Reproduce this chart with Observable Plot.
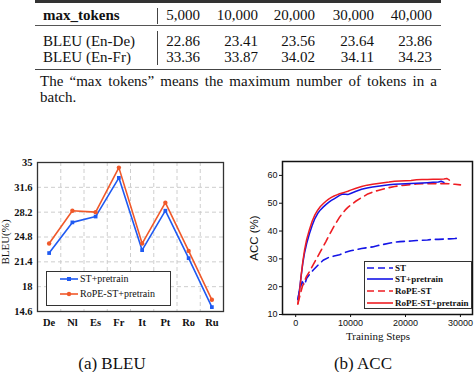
<!DOCTYPE html>
<html><head><meta charset="utf-8">
<script src="https://cdn.jsdelivr.net/npm/d3@7"></script>
<script src="https://cdn.jsdelivr.net/npm/@observablehq/plot@0.6"></script>
<style>
body{margin:0;background:#fff;}
#root{position:relative;width:474px;height:372px;overflow:hidden;font-family:"Liberation Serif","Times New Roman",Times,serif;color:#111;}
.abs{position:absolute;white-space:nowrap;line-height:1;font-family:"Liberation Serif","Times New Roman",Times,serif;}
.rule{position:absolute;background:#333;}
svg{position:absolute;}
</style></head><body><div id="root"></div>
<script>
// ---- table data ----
const tableHeaderLabel = "max_tokens";
const maxTokens = ["5,000", "10,000", "20,000", "30,000", "40,000"];
const rowLabels = ["BLEU (En-De)", "BLEU (En-Fr)"];
const bleuEnDe = [22.86, 23.41, 23.56, 23.64, 23.86];
const bleuEnFr = [33.36, 33.87, 34.02, 34.11, 34.23];
const tableNote = ["The \u201cmax tokens\u201d means the maximum number of tokens in a", "batch."];

// ---- chart (a) BLEU ----
const langs = ["De", "Nl", "Es", "Fr", "It", "Pt", "Ro", "Ru"];
const bleuST = [22.6, 26.8, 27.6, 32.9, 23.0, 28.4, 21.9, 15.2];
const bleuRoPE = [23.9, 28.4, 28.2, 34.3, 23.9, 29.5, 22.9, 16.2];
const bleuTicks = [14.6, 18, 21.4, 24.8, 28.2, 31.6, 35];
const bleuSeries = ["ST+pretrain", "RoPE-ST+pretrain"];

// ---- chart (b) ACC ----
const stepsST = [400, 800, 1200, 1600, 2000, 2600, 3200, 4000, 5000, 6000, 7000, 8000, 9000, 10000, 11000, 12000, 13000, 14000, 15000, 16000, 17000, 18000, 19000, 20000, 21000, 22000, 23000, 24000, 25000, 26000, 27000, 28000, 29000, 30000];
const accST = [15.5, 19.5, 21.8, 20.5, 23.0, 24.6, 26.0, 27.6, 29.5, 30.5, 31.0, 31.5, 32.3, 32.9, 33.3, 33.7, 34.0, 34.3, 34.8, 35.2, 35.6, 36.0, 36.2, 36.3, 36.4, 36.6, 36.7, 36.8, 37.0, 37.0, 37.1, 37.2, 37.3, 37.5];
const stepsRoPE = [400, 800, 1200, 1600, 2000, 2500, 3000, 3500, 4000, 4500, 5000, 5500, 6000, 6500, 7000, 7500, 8000, 8500, 9000, 9500, 10000, 11000, 12000, 13000, 14000, 15000, 16000, 17000, 18000, 19000, 20000, 21000, 22000, 23000, 24000, 25000, 26000, 27000, 28000, 29000, 30000];
const accRoPE = [13.8, 17.0, 20.0, 22.0, 23.8, 25.4, 27.2, 29.0, 30.8, 32.6, 34.4, 36.2, 38.2, 40.0, 41.8, 43.4, 45.0, 46.3, 47.5, 48.5, 49.3, 50.8, 52.0, 53.2, 54.0, 54.6, 55.1, 55.6, 56.0, 56.3, 56.5, 56.7, 56.9, 57.0, 57.0, 57.1, 57.0, 57.1, 57.0, 56.8, 56.6];
const stepsSTPre = [400, 700, 1000, 1300, 1600, 2000, 2500, 3000, 3500, 4000, 4500, 5000, 5500, 6000, 6500, 7000, 7500, 8000, 8500, 9000, 9500, 10000, 11000, 12000, 13000, 14000, 15000, 16000, 17000, 18000, 19000, 20000, 21000, 22000, 23000, 24000, 25000, 26000, 26500, 27000];
const accSTPre = [15.3, 19.0, 24.0, 28.5, 32.0, 35.5, 39.0, 42.0, 44.5, 46.3, 47.6, 48.6, 49.5, 50.3, 51.0, 51.6, 52.2, 52.8, 53.3, 53.2, 53.1, 53.5, 54.3, 55.0, 55.5, 55.8, 56.1, 56.4, 56.6, 56.8, 56.9, 57.0, 57.1, 57.2, 57.3, 57.4, 57.5, 57.6, 57.9, 57.5];
const stepsRoPEPre = [400, 700, 1000, 1300, 1600, 2000, 2500, 3000, 3500, 4000, 4500, 5000, 5500, 6000, 6500, 7000, 7500, 8000, 8500, 9000, 9500, 10000, 11000, 12000, 13000, 14000, 15000, 16000, 17000, 18000, 19000, 20000, 21000, 22000, 23000, 24000, 25000, 26000, 27000, 27500, 28000];
const accRoPEPre = [13.8, 18.0, 24.0, 29.0, 33.0, 37.0, 40.5, 43.5, 45.8, 47.5, 48.8, 49.8, 50.7, 51.5, 52.1, 52.6, 53.0, 53.4, 53.7, 54.0, 54.3, 54.7, 55.4, 56.0, 56.5, 56.8, 57.1, 57.4, 57.6, 57.9, 58.0, 58.1, 58.2, 58.4, 58.5, 58.5, 58.6, 58.6, 58.7, 58.9, 58.3];
const accSeries = ["ST", "ST+pretrain", "RoPE-ST", "RoPE-ST+pretrain"];
const accXTicks = [0, 10000, 20000, 30000];
const accYTicks = [10, 20, 30, 40, 50, 60];
const subCaptions = ["(a)  BLEU", "(b)  ACC"];

const root = document.getElementById("root");
function txt(s, x, y, o = {}) {
  const d = document.createElement("div");
  d.className = "abs";
  d.textContent = s;
  d.style.fontSize = (o.size || 15) + "px";
  if (o.weight) d.style.fontWeight = o.weight;
  if (o.family) d.style.fontFamily = o.family;
  const a = o.anchor || "start";
  const tx = a === "start" ? "0" : a === "end" ? "-100%" : "-50%";
  d.style.left = x + "px"; d.style.top = y + "px";
  d.style.transform = `translate(${tx},-50%)` + (o.rotate ? ` rotate(${o.rotate}deg)` : "");
  root.appendChild(d);
  return d;
}
function rule(x, y, w, h, c) {
  const d = document.createElement("div");
  d.className = "rule";
  Object.assign(d.style, {left: x + "px", top: y + "px", width: w + "px", height: h + "px"});
  if (c) d.style.background = c;
  root.appendChild(d);
}

// ---- table ----
rule(35, 0, 406, 2.5, "#333");
rule(35, 24.5, 406, 1, "#555");
rule(35, 68.5, 406, 1.6, "#444");
rule(157, 8, 1, 16, "#444");
rule(157, 31, 1, 34, "#444");
txt(tableHeaderLabel, 43, 15, {weight: "bold"});
const colEnds = [200, 258, 315, 374, 432];
maxTokens.forEach((t, i) => txt(t, colEnds[i], 15, {anchor: "end"}));
txt(rowLabels[0], 43, 40.5);
txt(rowLabels[1], 43, 57);
bleuEnDe.forEach((v, i) => txt(v.toFixed(2), colEnds[i], 40.5, {anchor: "end"}));
bleuEnFr.forEach((v, i) => txt(v.toFixed(2), colEnds[i], 57, {anchor: "end"}));
const n1 = txt(tableNote[0], 40, 81);
n1.style.width = "397px"; n1.style.textAlign = "justify"; n1.style.textAlignLast = "justify"; n1.style.whiteSpace = "normal";
txt(tableNote[1], 40, 97);

// ---- chart (a) ----
const blueA = "#1f5af2", orangeA = "#f0592a";
const idx = d3.range(langs.length);
const left = Plot.plot({
  width: 240, height: 180, marginLeft: 37, marginRight: 17, marginTop: 12, marginBottom: 19,
  style: {fontFamily: "Liberation Serif", fontSize: "10.5px", fontWeight: "bold", color: "#111", background: "transparent"},
  x: {domain: [-0.5, langs.length - 0.5], ticks: idx, tickFormat: i => langs[i], tickSize: 0, tickPadding: 7, label: null},
  y: {domain: [bleuTicks[0], bleuTicks[bleuTicks.length - 1]], ticks: bleuTicks, tickFormat: d => String(d), tickSize: 0, tickPadding: 5, label: null},
  marks: [
    Plot.ruleX(d3.range(1, langs.length).map(i => i - 0.5), {stroke: "#c8c8c8", strokeDasharray: "4,3", strokeWidth: 0.9}),
    Plot.ruleY(bleuTicks.slice(1, -1), {stroke: "#c8c8c8", strokeDasharray: "4,3", strokeWidth: 0.9}),
    Plot.line(idx, {x: i => i, y: i => bleuST[i], stroke: blueA, strokeWidth: 1.6}),
    Plot.dot(idx, {x: i => i, y: i => bleuST[i], fill: blueA, symbol: "square", r: 2.1}),
    Plot.line(idx, {x: i => i, y: i => bleuRoPE[i], stroke: orangeA, strokeWidth: 1.6}),
    Plot.dot(idx, {x: i => i, y: i => bleuRoPE[i], fill: orangeA, r: 2.2}),
    Plot.frame({stroke: "#333", strokeWidth: 1.3})
  ]
});
left.style.left = "0px"; left.style.top = "150px";
root.appendChild(left);
txt("BLEU(%)", 5, 242, {size: 11, anchor: "middle", rotate: -90});

// legend helpers
function legendBox(x, y, w, h) {
  const d = document.createElement("div");
  Object.assign(d.style, {position: "absolute", left: x + "px", top: y + "px", width: w + "px", height: h + "px", border: "1px solid #333", boxSizing: "border-box", background: "#fff"});
  root.appendChild(d);
}
function swatch(x, y, w, color, dash, marker) {
  const ns = "http://www.w3.org/2000/svg";
  const s = document.createElementNS(ns, "svg");
  s.setAttribute("width", w); s.setAttribute("height", 8);
  s.style.left = x + "px"; s.style.top = (y - 4) + "px";
  const l = document.createElementNS(ns, "line");
  l.setAttribute("x1", 0); l.setAttribute("x2", w); l.setAttribute("y1", 4); l.setAttribute("y2", 4);
  l.setAttribute("stroke", color); l.setAttribute("stroke-width", 1.6);
  if (dash) l.setAttribute("stroke-dasharray", dash);
  s.appendChild(l);
  if (marker === "square") {
    const r = document.createElementNS(ns, "rect");
    r.setAttribute("x", w / 2 - 2); r.setAttribute("y", 2); r.setAttribute("width", 4); r.setAttribute("height", 4); r.setAttribute("fill", color);
    s.appendChild(r);
  } else if (marker === "circle") {
    const c = document.createElementNS(ns, "circle");
    c.setAttribute("cx", w / 2); c.setAttribute("cy", 4); c.setAttribute("r", 2.2); c.setAttribute("fill", color);
    s.appendChild(c);
  }
  root.appendChild(s);
}
legendBox(46, 271, 125, 35);
swatch(60, 278.5, 18, blueA, null, "square");
txt(bleuSeries[0], 80, 278.5, {size: 10});
swatch(60, 293.5, 18, orangeA, null, "circle");
txt(bleuSeries[1], 80, 293.5, {size: 10});

// ---- chart (b) ----
const blueB = "#1414e6", redB = "#ee1d23";
const dashB = "8,5";
const right = Plot.plot({
  width: 234, height: 180, marginLeft: 42, marginRight: 2, marginTop: 11, marginBottom: 16,
  style: {fontFamily: "Liberation Sans", fontSize: "9px", color: "#111", background: "transparent"},
  x: {domain: [-2400, 32200], ticks: accXTicks, tickFormat: d => String(d), tickSize: 3, tickPadding: 2, label: null},
  y: {domain: [10, 65], ticks: accYTicks, tickFormat: d => String(d), tickSize: 3, tickPadding: 2, label: null},
  marks: [
    Plot.line(stepsST, {x: d => d, y: (d, i) => accST[i], stroke: blueB, strokeWidth: 1.6, strokeDasharray: dashB}),
    Plot.line(stepsRoPE, {x: d => d, y: (d, i) => accRoPE[i], stroke: redB, strokeWidth: 1.6, strokeDasharray: dashB}),
    Plot.line(stepsSTPre, {x: d => d, y: (d, i) => accSTPre[i], stroke: blueB, strokeWidth: 1.5}),
    Plot.line(stepsRoPEPre, {x: d => d, y: (d, i) => accRoPEPre[i], stroke: redB, strokeWidth: 1.5}),
    Plot.frame({stroke: "#111", strokeWidth: 1.5})
  ]
});
right.style.left = "240px"; right.style.top = "150px";
root.appendChild(right);
txt("ACC (%)", 255, 238, {size: 11.5, anchor: "middle", rotate: -90, family: "Liberation Sans"});
txt("Training Steps", 378, 336, {size: 11, anchor: "middle"});

legendBox(364, 261, 108, 48);
const accStyles = [[blueB, "7,4"], [blueB, null], [redB, "7,4"], [redB, null]];
const accLegY = [267.5, 278.5, 290.5, 302.5];
accSeries.forEach((s, i) => {
  swatch(367, accLegY[i], 26, accStyles[i][0], accStyles[i][1], null);
  txt(s, 395, accLegY[i], {size: 9, weight: "bold"});
});

// sub captions
txt(subCaptions[0], 112, 363, {size: 17, anchor: "middle"});
txt(subCaptions[1], 363, 363, {size: 17, anchor: "middle"});
</script>
</body></html>
